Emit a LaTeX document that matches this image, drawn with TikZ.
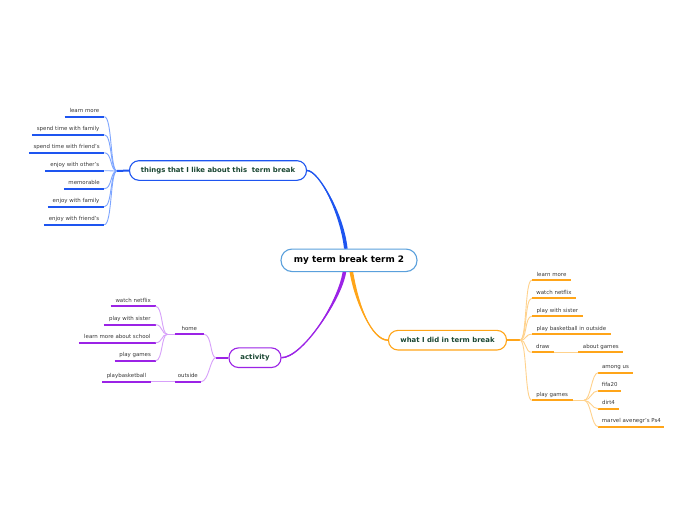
\documentclass[tikz,border=0pt]{standalone}
\usepackage{fontspec}
\setmainfont{DejaVu Sans}
\definecolor{cBlue}{RGB}{30,85,240}
\definecolor{cBlueL}{RGB}{125,165,255}
\definecolor{cOra}{RGB}{255,165,25}
\definecolor{cOraL}{RGB}{255,210,140}
\definecolor{cPur}{RGB}{155,35,230}
\definecolor{cPurL}{RGB}{215,160,250}
\definecolor{cRoot}{RGB}{90,160,220}
\definecolor{cDG}{RGB}{25,70,50}
\begin{document}
\begin{tikzpicture}[x=1pt,y=-1pt,
  leaf/.style={font=\fontsize{5.45}{6.5}\selectfont, text=black!78, inner xsep=0pt, inner ysep=2.5pt,
    text height=4.1pt, text depth=1.4pt, minimum width=#1},
  ul/.style={line width=1.8pt},
  bleaf/.style={leaf=#1, anchor=south east, append after command={(\tikzlastnode.south west) edge[ul,cBlue] (\tikzlastnode.south east)}},
  oleaf/.style={leaf=#1, anchor=south west, append after command={(\tikzlastnode.south west) edge[ul,cOra] (\tikzlastnode.south east)}},
  pleaf/.style={leaf=#1, anchor=south east, append after command={(\tikzlastnode.south west) edge[ul,cPur] (\tikzlastnode.south east)}},
  mnode/.style={draw=#1, fill=white, rounded corners=9.5pt, line width=1.1pt, inner xsep=0pt,
    font=\fontsize{6.9}{8}\selectfont\bfseries, text=cDG, minimum height=19.6pt},
  bc/.style={draw=cBlueL, line width=0.9pt},
  oc/.style={draw=cOraL, line width=0.9pt},
  pc/.style={draw=cPurL, line width=0.9pt},
  stub/.style={line width=2pt},
  mainc/.style={line width=1.3pt}
]
\useasboundingbox[fill=white] (0,0) rectangle (697,520);

% main nodes
\node[draw=cRoot, fill=white, rounded corners=11pt, line width=1.1pt, minimum width=136pt, minimum height=22.5pt,
  inner xsep=0pt, font=\fontsize{8.9}{10}\selectfont\bfseries] (root) at (349,260.3) {my term break term 2};
\node[mnode=cBlue, minimum width=177pt] (blue) at (218,170.5) {things that I like about this\ \ term break};
\node[mnode=cOra, minimum width=118pt] (ora) at (447.5,340.2) {what I did in term break};
\node[mnode=cPur, minimum width=52pt] (act) at (255,357.7) {activity};

% main connectors (tapered)
\fill[cBlue] ([xshift=-5pt]root.north) .. controls +(-4,-36) and +(11,0) .. ([yshift=0.6pt]blue.east)
  -- ([yshift=-0.6pt]blue.east) .. controls +(12,0) and +(-4,-36) .. ([xshift=-1.4pt]root.north) -- cycle;
\draw[cBlue, mainc] ([xshift=-3.2pt]root.north) .. controls +(-4,-36) and +(11.5,0) .. (blue.east);
\fill[cOra] ([xshift=0.6pt]root.south) .. controls +(5,30) and +(-16,0) .. ([yshift=0.6pt]ora.west)
  -- ([yshift=-0.6pt]ora.west) .. controls +(-17,0) and +(5,30) .. ([xshift=4.2pt]root.south) -- cycle;
\draw[cOra, mainc] ([xshift=2.4pt]root.south) .. controls +(5,30) and +(-16.5,0) .. (ora.west);
\fill[cPur] ([xshift=-6.4pt]root.south) .. controls +(-5,30) and +(21,0) .. ([yshift=-0.6pt]act.east)
  -- ([yshift=0.6pt]act.east) .. controls +(20,0) and +(-5,30) .. ([xshift=-2.8pt]root.south) -- cycle;
\draw[cPur, mainc] ([xshift=-4.6pt]root.south) .. controls +(-5,30) and +(20.5,0) .. (act.east);

% blue leaves
\node[bleaf=39.3] (b1) at (104.3,116.7) {learn more};
\node[bleaf=72] (b2) at (104.3,134.7) {spend time with family};
\node[bleaf=75] (b3) at (104.3,152.7) {spend time with friend's};
\node[bleaf=58.6] (b4) at (104.3,170.7) {enjoy with other's};
\node[bleaf=40] (b5) at (104.3,188.7) {memorable};
\node[bleaf=56] (b6) at (104.3,206.7) {enjoy with family};
\node[bleaf=60] (b7) at (104.3,224.7) {enjoy with friend's};
\coordinate (bj) at (117,171);
\foreach \n in {b1,b2,b3,b4,b5,b6,b7}
  \draw[bc] (\n.south east) .. controls +(8,0) and +(-7,0) .. (bj);
\draw[cBlue, stub] (bj) -- (blue.west);

% orange leaves
\node[oleaf=39.3] (o1) at (531.7,280.3) {learn more};
\node[oleaf=44.3] (o2) at (531.7,298.3) {watch netflix};
\node[oleaf=51] (o3) at (531.7,316.3) {play with sister};
\node[oleaf=79] (o4) at (531.7,334.3) {play basketball in outside};
\node[oleaf=22] (o5) at (531.7,352.3) {draw};
\node[oleaf=44.7] (o5a) at (578.3,352.3) {about games};
\node[oleaf=40.6] (o6) at (531.7,400.3) {play games};
\node[oleaf=34] (g1) at (598.3,372.7) {among us};
\node[oleaf=22.4] (g2) at (598.3,390.7) {fifa20};
\node[oleaf=20] (g3) at (598.3,408.7) {dirt4};
\node[oleaf=65.7] (g4) at (598.3,426.7) {marvel avenegr's Ps4};
\coordinate (oj) at (520,340.2);
\coordinate (gj) at (584,400.3);
\draw[cOra, stub] (ora.east) -- (oj);
\foreach \n in {o1,o2,o3,o4,o5,o6}
  \draw[oc] (oj) .. controls +(7,0) and +(-7,0) .. (\n.south west);
\draw[oc] (o5.south east) -- (o5a.south west);
\draw[oc] (o6.south east) -- (gj);
\foreach \n in {g1,g2,g3,g4}
  \draw[oc] (gj) .. controls +(7,0) and +(-7,0) .. (\n.south west);

% purple leaves
\node[pleaf=29] (home) at (204,334.3) {home};
\node[pleaf=26] (out) at (201,381.7) {outside};
\node[pleaf=44.7] (p1) at (155.7,306.3) {watch netflix};
\node[pleaf=51.4] (p2) at (155.7,324.7) {play with sister};
\node[pleaf=76.4] (p3) at (155.7,342.7) {learn more about school};
\node[pleaf=40.7] (p4) at (155.7,360.7) {play games};
\node[pleaf=48] (p5) at (150.7,381.7) {playbasketball};
\coordinate (pj) at (216,357.7);
\coordinate (hj) at (167.3,334.3);
\draw[cPur, stub] (act.west) -- (pj);
\draw[pc] (home.south east) .. controls +(8,0) and +(-6,0) .. (pj);
\draw[pc] (out.south east) .. controls +(8,0) and +(-6,0) .. (pj);
\draw[pc] (home.south west) -- (hj);
\foreach \n in {p1,p2,p3,p4}
  \draw[pc] (\n.south east) .. controls +(7,0) and +(-6,0) .. (hj);
\draw[pc] (out.south west) -- (p5.south east);
\end{tikzpicture}
\end{document}
